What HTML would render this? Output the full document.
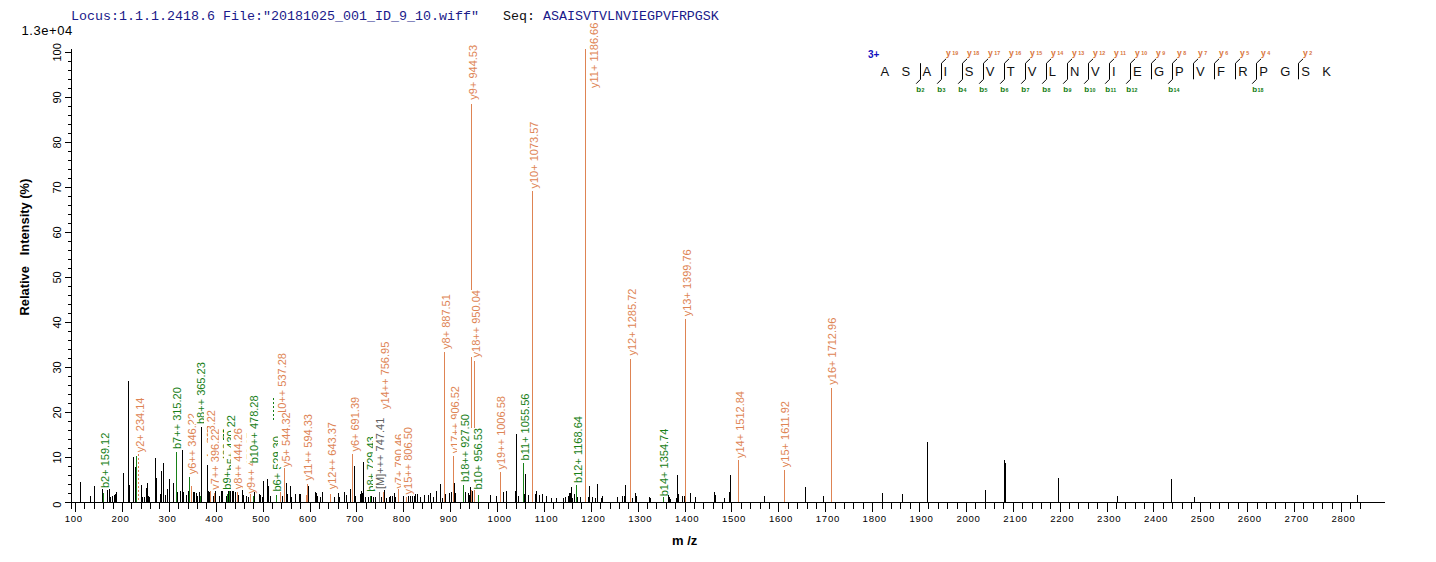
<!DOCTYPE html><html><head><meta charset="utf-8"><style>html,body{margin:0;padding:0;background:#fff;}svg{display:block}text{font-family:"Liberation Sans",sans-serif}</style></head><body>
<svg width="1436" height="562" viewBox="0 0 1436 562" shape-rendering="crispEdges">
<rect width="1436" height="562" fill="#fff"/>
<rect x="103" y="493" width="1" height="9" fill="#178017"/>
<rect x="136" y="456" width="1" height="46" fill="#178017"/>
<rect x="176" y="452" width="1" height="50" fill="#178017"/>
<rect x="189" y="477" width="1" height="25" fill="#178017"/>
<rect x="191" y="486" width="1" height="16" fill="#de8454"/>
<rect x="200" y="496" width="1" height="6" fill="#178017"/>
<rect x="210" y="491" width="1" height="11" fill="#de8454"/>
<rect x="214" y="493" width="1" height="9" fill="#de8454"/>
<rect x="227" y="494" width="1" height="8" fill="#178017"/>
<rect x="229" y="491" width="1" height="11" fill="#178017"/>
<rect x="237" y="492" width="1" height="10" fill="#de8454"/>
<rect x="250" y="494" width="1" height="8" fill="#de8454"/>
<rect x="253" y="496" width="1" height="6" fill="#178017"/>
<rect x="276" y="495" width="1" height="7" fill="#178017"/>
<rect x="280" y="492" width="1" height="10" fill="#de8454"/>
<rect x="284" y="468" width="1" height="34" fill="#de8454"/>
<rect x="306" y="495" width="1" height="7" fill="#de8454"/>
<rect x="307" y="484" width="1" height="18" fill="#de8454"/>
<rect x="330" y="494" width="1" height="8" fill="#de8454"/>
<rect x="352" y="454" width="1" height="48" fill="#de8454"/>
<rect x="370" y="496" width="1" height="6" fill="#178017"/>
<rect x="379" y="492" width="1" height="10" fill="#606060"/>
<rect x="383" y="492" width="1" height="10" fill="#de8454"/>
<rect x="398" y="488" width="1" height="14" fill="#de8454"/>
<rect x="406" y="497" width="1" height="5" fill="#de8454"/>
<rect x="444" y="352" width="1" height="150" fill="#de8454"/>
<rect x="453" y="456" width="1" height="46" fill="#de8454"/>
<rect x="463" y="485" width="1" height="17" fill="#178017"/>
<rect x="471" y="104" width="1" height="398" fill="#de8454"/>
<rect x="474" y="361" width="1" height="141" fill="#de8454"/>
<rect x="478" y="495" width="1" height="7" fill="#178017"/>
<rect x="500" y="472" width="1" height="30" fill="#de8454"/>
<rect x="523" y="463" width="1" height="39" fill="#178017"/>
<rect x="532" y="191" width="1" height="311" fill="#de8454"/>
<rect x="576" y="485" width="1" height="17" fill="#178017"/>
<rect x="585" y="49" width="1" height="453" fill="#de8454"/>
<rect x="630" y="359" width="1" height="143" fill="#de8454"/>
<rect x="663" y="497" width="1" height="5" fill="#178017"/>
<rect x="685" y="319" width="1" height="183" fill="#de8454"/>
<rect x="738" y="460" width="1" height="42" fill="#de8454"/>
<rect x="784" y="470" width="1" height="32" fill="#de8454"/>
<rect x="831" y="388" width="1" height="114" fill="#de8454"/>
<g transform="translate(108.9,488.0) rotate(-90)"><rect x="0" y="-11.5" width="55.4" height="14" fill="#fff"/><text font-size="11" fill="#178017">b2+ 159.12</text></g>
<g transform="translate(143.5,452.3) rotate(-90)"><rect x="0" y="-11.5" width="54.8" height="14" fill="#fff"/><text font-size="11" fill="#de8454">y2+ 234.14</text></g>
<g transform="translate(181.3,449.0) rotate(-90)"><rect x="0" y="-11.5" width="61.8" height="14" fill="#fff"/><text font-size="11" fill="#178017">b7++ 315.20</text></g>
<g transform="translate(196.4,474.2) rotate(-90)"><rect x="0" y="-11.5" width="61.2" height="14" fill="#fff"/><text font-size="11" fill="#de8454">y6++ 346.22</text></g>
<g transform="translate(205.2,424.0) rotate(-90)"><rect x="0" y="-11.5" width="61.8" height="14" fill="#fff"/><text font-size="11" fill="#178017">b8++ 365.23</text></g>
<g transform="translate(215.2,464.8) rotate(-90)"><rect x="0" y="-11.5" width="54.8" height="14" fill="#fff"/><text font-size="11" fill="#de8454">y4+ 388.22</text></g>
<g transform="translate(219.0,489.7) rotate(-90)"><rect x="0" y="-11.5" width="61.2" height="14" fill="#fff"/><text font-size="11" fill="#de8454">y7++ 396.22</text></g>
<g transform="translate(230.8,489.7) rotate(-90)"><rect x="0" y="-11.5" width="61.8" height="14" fill="#fff"/><text font-size="11" fill="#178017">b9++ 422.22</text></g>
<g transform="translate(235.2,470.4) rotate(-90)"><rect x="0" y="-11.5" width="55.4" height="14" fill="#fff"/><text font-size="11" fill="#178017">b5+ 430.22</text></g>
<g transform="translate(242.0,489.2) rotate(-90)"><rect x="0" y="-11.5" width="61.2" height="14" fill="#fff"/><text font-size="11" fill="#de8454">y8++ 444.26</text></g>
<g transform="translate(254.5,493.5) rotate(-90)"><rect x="0" y="-11.5" width="61.2" height="14" fill="#fff"/><text font-size="11" fill="#de8454">y9++ 473.27</text></g>
<g transform="translate(258.0,463.3) rotate(-90)"><rect x="0" y="-11.5" width="68.0" height="14" fill="#fff"/><text font-size="11" fill="#178017">b10++ 478.28</text></g>
<g transform="translate(281.4,491.5) rotate(-90)"><rect x="0" y="-11.5" width="55.4" height="14" fill="#fff"/><text font-size="11" fill="#178017">b6+ 529.30</text></g>
<g transform="translate(285.5,420.3) rotate(-90)"><rect x="0" y="-11.5" width="67.3" height="14" fill="#fff"/><text font-size="11" fill="#de8454">y10++ 537.28</text></g>
<g transform="translate(289.9,467.0) rotate(-90)"><rect x="0" y="-11.5" width="54.8" height="14" fill="#fff"/><text font-size="11" fill="#de8454">y5+ 544.32</text></g>
<g transform="translate(312.3,480.5) rotate(-90)"><rect x="0" y="-11.5" width="66.5" height="14" fill="#fff"/><text font-size="11" fill="#de8454">y11++ 594.33</text></g>
<g transform="translate(335.5,489.3) rotate(-90)"><rect x="0" y="-11.5" width="67.3" height="14" fill="#fff"/><text font-size="11" fill="#de8454">y12++ 643.37</text></g>
<g transform="translate(358.5,451.6) rotate(-90)"><rect x="0" y="-11.5" width="54.8" height="14" fill="#fff"/><text font-size="11" fill="#de8454">y6+ 691.39</text></g>
<g transform="translate(374.5,491.7) rotate(-90)"><rect x="0" y="-11.5" width="55.4" height="14" fill="#fff"/><text font-size="11" fill="#178017">b8+ 729.43</text></g>
<g transform="translate(384.3,489.0) rotate(-90)"><rect x="0" y="-11.5" width="71.3" height="14" fill="#fff"/><text font-size="11" fill="#606060">[M]+++ 747.41</text></g>
<g transform="translate(389.2,409.0) rotate(-90)"><rect x="0" y="-11.5" width="67.3" height="14" fill="#fff"/><text font-size="11" fill="#de8454">y14++ 756.95</text></g>
<g transform="translate(402.5,488.6) rotate(-90)"><rect x="0" y="-11.5" width="54.8" height="14" fill="#fff"/><text font-size="11" fill="#de8454">y7+ 790.46</text></g>
<g transform="translate(412.0,494.4) rotate(-90)"><rect x="0" y="-11.5" width="67.3" height="14" fill="#fff"/><text font-size="11" fill="#de8454">y15++ 806.50</text></g>
<g transform="translate(450.0,348.9) rotate(-90)"><rect x="0" y="-11.5" width="54.8" height="14" fill="#fff"/><text font-size="11" fill="#de8454">y8+ 887.51</text></g>
<g transform="translate(458.5,453.3) rotate(-90)"><rect x="0" y="-11.5" width="67.3" height="14" fill="#fff"/><text font-size="11" fill="#de8454">y17++ 906.52</text></g>
<g transform="translate(468.8,482.0) rotate(-90)"><rect x="0" y="-11.5" width="68.0" height="14" fill="#fff"/><text font-size="11" fill="#178017">b18++ 927.50</text></g>
<g transform="translate(476.8,99.7) rotate(-90)"><rect x="0" y="-11.5" width="54.8" height="14" fill="#fff"/><text font-size="11" fill="#de8454">y9+ 944.53</text></g>
<g transform="translate(480.0,357.4) rotate(-90)"><rect x="0" y="-11.5" width="67.3" height="14" fill="#fff"/><text font-size="11" fill="#de8454">y18++ 950.04</text></g>
<g transform="translate(482.2,489.5) rotate(-90)"><rect x="0" y="-11.5" width="61.5" height="14" fill="#fff"/><text font-size="11" fill="#178017">b10+ 956.53</text></g>
<g transform="translate(505.0,469.5) rotate(-90)"><rect x="0" y="-11.5" width="73.5" height="14" fill="#fff"/><text font-size="11" fill="#de8454">y19++ 1006.58</text></g>
<g transform="translate(528.8,460.4) rotate(-90)"><rect x="0" y="-11.5" width="66.9" height="14" fill="#fff"/><text font-size="11" fill="#178017">b11+ 1055.56</text></g>
<g transform="translate(537.6,188.5) rotate(-90)"><rect x="0" y="-11.5" width="67.0" height="14" fill="#fff"/><text font-size="11" fill="#de8454">y10+ 1073.57</text></g>
<g transform="translate(581.5,482.9) rotate(-90)"><rect x="0" y="-11.5" width="66.9" height="14" fill="#fff"/><text font-size="11" fill="#178017">b12+ 1168.64</text></g>
<g transform="translate(597.5,88.0) rotate(-90)"><rect x="0" y="-11.5" width="65.4" height="14" fill="#fff"/><text font-size="11" fill="#de8454">y11+ 1186.66</text></g>
<g transform="translate(635.8,355.6) rotate(-90)"><rect x="0" y="-11.5" width="67.0" height="14" fill="#fff"/><text font-size="11" fill="#de8454">y12+ 1285.72</text></g>
<g transform="translate(668.0,496.3) rotate(-90)"><rect x="0" y="-11.5" width="67.7" height="14" fill="#fff"/><text font-size="11" fill="#178017">b14+ 1354.74</text></g>
<g transform="translate(690.6,316.3) rotate(-90)"><rect x="0" y="-11.5" width="67.0" height="14" fill="#fff"/><text font-size="11" fill="#de8454">y13+ 1399.76</text></g>
<g transform="translate(743.5,458.0) rotate(-90)"><rect x="0" y="-11.5" width="67.0" height="14" fill="#fff"/><text font-size="11" fill="#de8454">y14+ 1512.84</text></g>
<g transform="translate(788.6,467.2) rotate(-90)"><rect x="0" y="-11.5" width="66.2" height="14" fill="#fff"/><text font-size="11" fill="#de8454">y15+ 1611.92</text></g>
<g transform="translate(836.3,384.7) rotate(-90)"><rect x="0" y="-11.5" width="67.0" height="14" fill="#fff"/><text font-size="11" fill="#de8454">y16+ 1712.96</text></g>
<rect x="80" y="482" width="1" height="20" fill="#000000"/>
<rect x="90" y="496" width="1" height="6" fill="#000000"/>
<rect x="94" y="486" width="1" height="16" fill="#000000"/>
<rect x="102" y="489" width="1" height="13" fill="#000000"/>
<rect x="107" y="490" width="1" height="12" fill="#000000"/>
<rect x="109" y="489" width="1" height="13" fill="#000000"/>
<rect x="110" y="497" width="1" height="5" fill="#000000"/>
<rect x="112" y="496" width="1" height="6" fill="#000000"/>
<rect x="112" y="496" width="1" height="6" fill="#000000"/>
<rect x="114" y="495" width="1" height="7" fill="#000000"/>
<rect x="115" y="494" width="1" height="8" fill="#000000"/>
<rect x="116" y="492" width="1" height="10" fill="#000000"/>
<rect x="123" y="473" width="1" height="29" fill="#000000"/>
<rect x="128" y="381" width="1" height="121" fill="#000000"/>
<rect x="129" y="485" width="1" height="17" fill="#000000"/>
<rect x="133" y="457" width="1" height="45" fill="#000000"/>
<rect x="135" y="467" width="1" height="35" fill="#000000"/>
<rect x="141" y="485" width="1" height="17" fill="#000000"/>
<rect x="142" y="497" width="1" height="5" fill="#000000"/>
<rect x="144" y="497" width="1" height="5" fill="#000000"/>
<rect x="146" y="488" width="1" height="14" fill="#000000"/>
<rect x="147" y="483" width="1" height="19" fill="#000000"/>
<rect x="148" y="496" width="1" height="6" fill="#000000"/>
<rect x="149" y="497" width="1" height="5" fill="#000000"/>
<rect x="155" y="458" width="1" height="44" fill="#000000"/>
<rect x="156" y="478" width="1" height="24" fill="#000000"/>
<rect x="160" y="494" width="1" height="8" fill="#000000"/>
<rect x="161" y="471" width="1" height="31" fill="#000000"/>
<rect x="163" y="463" width="1" height="39" fill="#000000"/>
<rect x="165" y="495" width="1" height="7" fill="#000000"/>
<rect x="167" y="489" width="1" height="13" fill="#000000"/>
<rect x="169" y="479" width="1" height="23" fill="#000000"/>
<rect x="173" y="483" width="1" height="19" fill="#000000"/>
<rect x="177" y="492" width="1" height="10" fill="#000000"/>
<rect x="180" y="491" width="1" height="11" fill="#000000"/>
<rect x="182" y="450" width="1" height="52" fill="#000000"/>
<rect x="183" y="492" width="1" height="10" fill="#000000"/>
<rect x="186" y="495" width="1" height="7" fill="#000000"/>
<rect x="188" y="491" width="1" height="11" fill="#000000"/>
<rect x="193" y="492" width="1" height="10" fill="#000000"/>
<rect x="194" y="492" width="1" height="10" fill="#000000"/>
<rect x="196" y="493" width="1" height="9" fill="#000000"/>
<rect x="197" y="496" width="1" height="6" fill="#000000"/>
<rect x="199" y="492" width="1" height="10" fill="#000000"/>
<rect x="201" y="427" width="1" height="75" fill="#000000"/>
<rect x="207" y="465" width="1" height="37" fill="#000000"/>
<rect x="208" y="491" width="1" height="11" fill="#000000"/>
<rect x="209" y="492" width="1" height="10" fill="#000000"/>
<rect x="213" y="496" width="1" height="6" fill="#000000"/>
<rect x="215" y="491" width="1" height="11" fill="#000000"/>
<rect x="219" y="496" width="1" height="6" fill="#000000"/>
<rect x="221" y="491" width="1" height="11" fill="#000000"/>
<rect x="222" y="491" width="1" height="11" fill="#000000"/>
<rect x="226" y="496" width="1" height="6" fill="#000000"/>
<rect x="228" y="491" width="1" height="11" fill="#000000"/>
<rect x="230" y="491" width="1" height="11" fill="#000000"/>
<rect x="232" y="491" width="1" height="11" fill="#000000"/>
<rect x="233" y="491" width="1" height="11" fill="#000000"/>
<rect x="235" y="492" width="1" height="10" fill="#000000"/>
<rect x="238" y="495" width="1" height="7" fill="#000000"/>
<rect x="242" y="490" width="1" height="12" fill="#000000"/>
<rect x="243" y="495" width="1" height="7" fill="#000000"/>
<rect x="246" y="496" width="1" height="6" fill="#000000"/>
<rect x="248" y="497" width="1" height="5" fill="#000000"/>
<rect x="254" y="492" width="1" height="10" fill="#000000"/>
<rect x="259" y="494" width="1" height="8" fill="#000000"/>
<rect x="260" y="495" width="1" height="7" fill="#000000"/>
<rect x="262" y="497" width="1" height="5" fill="#000000"/>
<rect x="263" y="481" width="1" height="21" fill="#000000"/>
<rect x="267" y="479" width="1" height="23" fill="#000000"/>
<rect x="268" y="486" width="1" height="16" fill="#000000"/>
<rect x="270" y="496" width="1" height="6" fill="#000000"/>
<rect x="282" y="496" width="1" height="6" fill="#000000"/>
<rect x="286" y="483" width="1" height="19" fill="#000000"/>
<rect x="287" y="494" width="1" height="8" fill="#000000"/>
<rect x="290" y="486" width="1" height="16" fill="#000000"/>
<rect x="291" y="497" width="1" height="5" fill="#000000"/>
<rect x="295" y="494" width="1" height="8" fill="#000000"/>
<rect x="299" y="494" width="1" height="8" fill="#000000"/>
<rect x="300" y="494" width="1" height="8" fill="#000000"/>
<rect x="308" y="486" width="1" height="16" fill="#000000"/>
<rect x="315" y="492" width="1" height="10" fill="#000000"/>
<rect x="316" y="493" width="1" height="9" fill="#000000"/>
<rect x="317" y="496" width="1" height="6" fill="#000000"/>
<rect x="320" y="497" width="1" height="5" fill="#000000"/>
<rect x="322" y="492" width="1" height="10" fill="#000000"/>
<rect x="334" y="497" width="1" height="5" fill="#000000"/>
<rect x="338" y="493" width="1" height="9" fill="#000000"/>
<rect x="339" y="497" width="1" height="5" fill="#000000"/>
<rect x="344" y="492" width="1" height="10" fill="#000000"/>
<rect x="346" y="495" width="1" height="7" fill="#000000"/>
<rect x="350" y="489" width="1" height="13" fill="#000000"/>
<rect x="354" y="466" width="1" height="36" fill="#000000"/>
<rect x="355" y="496" width="1" height="6" fill="#000000"/>
<rect x="360" y="494" width="1" height="8" fill="#000000"/>
<rect x="361" y="491" width="1" height="11" fill="#000000"/>
<rect x="362" y="493" width="1" height="9" fill="#000000"/>
<rect x="363" y="462" width="1" height="40" fill="#000000"/>
<rect x="365" y="497" width="1" height="5" fill="#000000"/>
<rect x="368" y="497" width="1" height="5" fill="#000000"/>
<rect x="371" y="496" width="1" height="6" fill="#000000"/>
<rect x="373" y="497" width="1" height="5" fill="#000000"/>
<rect x="375" y="497" width="1" height="5" fill="#000000"/>
<rect x="381" y="497" width="1" height="5" fill="#000000"/>
<rect x="384" y="490" width="1" height="12" fill="#000000"/>
<rect x="386" y="498" width="1" height="4" fill="#000000"/>
<rect x="389" y="497" width="1" height="5" fill="#000000"/>
<rect x="390" y="496" width="1" height="6" fill="#000000"/>
<rect x="392" y="496" width="1" height="6" fill="#000000"/>
<rect x="394" y="493" width="1" height="9" fill="#000000"/>
<rect x="395" y="497" width="1" height="5" fill="#000000"/>
<rect x="403" y="496" width="1" height="6" fill="#000000"/>
<rect x="408" y="496" width="1" height="6" fill="#000000"/>
<rect x="410" y="496" width="1" height="6" fill="#000000"/>
<rect x="412" y="496" width="1" height="6" fill="#000000"/>
<rect x="412" y="496" width="1" height="6" fill="#000000"/>
<rect x="414" y="496" width="1" height="6" fill="#000000"/>
<rect x="415" y="494" width="1" height="8" fill="#000000"/>
<rect x="417" y="494" width="1" height="8" fill="#000000"/>
<rect x="420" y="497" width="1" height="5" fill="#000000"/>
<rect x="424" y="495" width="1" height="7" fill="#000000"/>
<rect x="428" y="495" width="1" height="7" fill="#000000"/>
<rect x="430" y="493" width="1" height="9" fill="#000000"/>
<rect x="433" y="497" width="1" height="5" fill="#000000"/>
<rect x="436" y="491" width="1" height="11" fill="#000000"/>
<rect x="440" y="484" width="1" height="18" fill="#000000"/>
<rect x="442" y="498" width="1" height="4" fill="#000000"/>
<rect x="445" y="494" width="1" height="8" fill="#000000"/>
<rect x="449" y="493" width="1" height="9" fill="#000000"/>
<rect x="451" y="492" width="1" height="10" fill="#000000"/>
<rect x="454" y="483" width="1" height="19" fill="#000000"/>
<rect x="455" y="493" width="1" height="9" fill="#000000"/>
<rect x="465" y="492" width="1" height="10" fill="#000000"/>
<rect x="468" y="493" width="1" height="9" fill="#000000"/>
<rect x="469" y="495" width="1" height="7" fill="#000000"/>
<rect x="470" y="487" width="1" height="15" fill="#000000"/>
<rect x="472" y="491" width="1" height="11" fill="#000000"/>
<rect x="490" y="495" width="1" height="7" fill="#000000"/>
<rect x="496" y="496" width="1" height="6" fill="#000000"/>
<rect x="503" y="492" width="1" height="10" fill="#000000"/>
<rect x="506" y="491" width="1" height="11" fill="#000000"/>
<rect x="515" y="491" width="1" height="11" fill="#000000"/>
<rect x="516" y="434" width="1" height="68" fill="#000000"/>
<rect x="518" y="496" width="1" height="6" fill="#000000"/>
<rect x="524" y="494" width="1" height="8" fill="#000000"/>
<rect x="525" y="474" width="1" height="28" fill="#000000"/>
<rect x="528" y="495" width="1" height="7" fill="#000000"/>
<rect x="535" y="494" width="1" height="8" fill="#000000"/>
<rect x="536" y="491" width="1" height="11" fill="#000000"/>
<rect x="539" y="495" width="1" height="7" fill="#000000"/>
<rect x="542" y="494" width="1" height="8" fill="#000000"/>
<rect x="546" y="496" width="1" height="6" fill="#000000"/>
<rect x="551" y="498" width="1" height="4" fill="#000000"/>
<rect x="556" y="498" width="1" height="4" fill="#000000"/>
<rect x="563" y="498" width="1" height="4" fill="#000000"/>
<rect x="565" y="497" width="1" height="5" fill="#000000"/>
<rect x="568" y="496" width="1" height="6" fill="#000000"/>
<rect x="569" y="493" width="1" height="9" fill="#000000"/>
<rect x="570" y="493" width="1" height="9" fill="#000000"/>
<rect x="571" y="487" width="1" height="15" fill="#000000"/>
<rect x="572" y="498" width="1" height="4" fill="#000000"/>
<rect x="574" y="494" width="1" height="8" fill="#000000"/>
<rect x="577" y="497" width="1" height="5" fill="#000000"/>
<rect x="580" y="497" width="1" height="5" fill="#000000"/>
<rect x="588" y="497" width="1" height="5" fill="#000000"/>
<rect x="589" y="486" width="1" height="16" fill="#000000"/>
<rect x="592" y="497" width="1" height="5" fill="#000000"/>
<rect x="595" y="498" width="1" height="4" fill="#000000"/>
<rect x="597" y="484" width="1" height="18" fill="#000000"/>
<rect x="601" y="498" width="1" height="4" fill="#000000"/>
<rect x="602" y="496" width="1" height="6" fill="#000000"/>
<rect x="617" y="497" width="1" height="5" fill="#000000"/>
<rect x="622" y="496" width="1" height="6" fill="#000000"/>
<rect x="624" y="496" width="1" height="6" fill="#000000"/>
<rect x="625" y="485" width="1" height="17" fill="#000000"/>
<rect x="632" y="498" width="1" height="4" fill="#000000"/>
<rect x="635" y="493" width="1" height="9" fill="#000000"/>
<rect x="636" y="496" width="1" height="6" fill="#000000"/>
<rect x="649" y="497" width="1" height="5" fill="#000000"/>
<rect x="650" y="498" width="1" height="4" fill="#000000"/>
<rect x="668" y="495" width="1" height="7" fill="#000000"/>
<rect x="669" y="497" width="1" height="5" fill="#000000"/>
<rect x="670" y="499" width="1" height="3" fill="#000000"/>
<rect x="676" y="498" width="1" height="4" fill="#000000"/>
<rect x="677" y="475" width="1" height="27" fill="#000000"/>
<rect x="678" y="494" width="1" height="8" fill="#000000"/>
<rect x="682" y="496" width="1" height="6" fill="#000000"/>
<rect x="684" y="496" width="1" height="6" fill="#000000"/>
<rect x="690" y="493" width="1" height="9" fill="#000000"/>
<rect x="695" y="497" width="1" height="5" fill="#000000"/>
<rect x="714" y="492" width="1" height="10" fill="#000000"/>
<rect x="715" y="495" width="1" height="7" fill="#000000"/>
<rect x="724" y="498" width="1" height="4" fill="#000000"/>
<rect x="729" y="492" width="1" height="10" fill="#000000"/>
<rect x="730" y="475" width="1" height="27" fill="#000000"/>
<rect x="764" y="496" width="1" height="6" fill="#000000"/>
<rect x="805" y="487" width="1" height="15" fill="#000000"/>
<rect x="823" y="496" width="1" height="6" fill="#000000"/>
<rect x="882" y="493" width="1" height="9" fill="#000000"/>
<rect x="902" y="494" width="1" height="8" fill="#000000"/>
<rect x="927" y="442" width="1" height="60" fill="#000000"/>
<rect x="985" y="490" width="1" height="12" fill="#000000"/>
<rect x="1004" y="460" width="1" height="42" fill="#000000"/>
<rect x="1005" y="463" width="1" height="39" fill="#000000"/>
<rect x="1058" y="478" width="1" height="24" fill="#000000"/>
<rect x="1117" y="496" width="1" height="6" fill="#000000"/>
<rect x="1171" y="479" width="1" height="23" fill="#000000"/>
<rect x="1194" y="497" width="1" height="5" fill="#000000"/>
<rect x="1357" y="495" width="1" height="7" fill="#000000"/>
<line x1="138.5" y1="454" x2="138.5" y2="502" stroke="#de8454" stroke-width="1" stroke-dasharray="2,2"/>
<line x1="207.5" y1="426" x2="207.5" y2="442" stroke="#de8454" stroke-width="1" stroke-dasharray="2,2"/>
<line x1="223.5" y1="430" x2="223.5" y2="441" stroke="#178017" stroke-width="1" stroke-dasharray="2,2"/>
<line x1="273.5" y1="398" x2="273.5" y2="421" stroke="#178017" stroke-width="1" stroke-dasharray="2,2"/>
<rect x="71" y="49" width="1" height="460" fill="#000"/>
<rect x="65" y="502" width="1320" height="1" fill="#000"/>
<rect x="65" y="502" width="6" height="1" fill="#000"/>
<rect x="68" y="493" width="3" height="1" fill="#000"/>
<rect x="68" y="484" width="3" height="1" fill="#000"/>
<rect x="68" y="475" width="3" height="1" fill="#000"/>
<rect x="68" y="466" width="3" height="1" fill="#000"/>
<rect x="65" y="457" width="6" height="1" fill="#000"/>
<rect x="68" y="448" width="3" height="1" fill="#000"/>
<rect x="68" y="439" width="3" height="1" fill="#000"/>
<rect x="68" y="430" width="3" height="1" fill="#000"/>
<rect x="68" y="421" width="3" height="1" fill="#000"/>
<rect x="65" y="412" width="6" height="1" fill="#000"/>
<rect x="68" y="403" width="3" height="1" fill="#000"/>
<rect x="68" y="394" width="3" height="1" fill="#000"/>
<rect x="68" y="385" width="3" height="1" fill="#000"/>
<rect x="68" y="376" width="3" height="1" fill="#000"/>
<rect x="65" y="367" width="6" height="1" fill="#000"/>
<rect x="68" y="358" width="3" height="1" fill="#000"/>
<rect x="68" y="349" width="3" height="1" fill="#000"/>
<rect x="68" y="340" width="3" height="1" fill="#000"/>
<rect x="68" y="331" width="3" height="1" fill="#000"/>
<rect x="65" y="322" width="6" height="1" fill="#000"/>
<rect x="68" y="313" width="3" height="1" fill="#000"/>
<rect x="68" y="304" width="3" height="1" fill="#000"/>
<rect x="68" y="295" width="3" height="1" fill="#000"/>
<rect x="68" y="286" width="3" height="1" fill="#000"/>
<rect x="65" y="277" width="6" height="1" fill="#000"/>
<rect x="68" y="268" width="3" height="1" fill="#000"/>
<rect x="68" y="259" width="3" height="1" fill="#000"/>
<rect x="68" y="250" width="3" height="1" fill="#000"/>
<rect x="68" y="241" width="3" height="1" fill="#000"/>
<rect x="65" y="232" width="6" height="1" fill="#000"/>
<rect x="68" y="223" width="3" height="1" fill="#000"/>
<rect x="68" y="214" width="3" height="1" fill="#000"/>
<rect x="68" y="205" width="3" height="1" fill="#000"/>
<rect x="68" y="196" width="3" height="1" fill="#000"/>
<rect x="65" y="187" width="6" height="1" fill="#000"/>
<rect x="68" y="178" width="3" height="1" fill="#000"/>
<rect x="68" y="169" width="3" height="1" fill="#000"/>
<rect x="68" y="160" width="3" height="1" fill="#000"/>
<rect x="68" y="151" width="3" height="1" fill="#000"/>
<rect x="65" y="142" width="6" height="1" fill="#000"/>
<rect x="68" y="133" width="3" height="1" fill="#000"/>
<rect x="68" y="124" width="3" height="1" fill="#000"/>
<rect x="68" y="115" width="3" height="1" fill="#000"/>
<rect x="68" y="106" width="3" height="1" fill="#000"/>
<rect x="65" y="97" width="6" height="1" fill="#000"/>
<rect x="68" y="88" width="3" height="1" fill="#000"/>
<rect x="68" y="79" width="3" height="1" fill="#000"/>
<rect x="68" y="70" width="3" height="1" fill="#000"/>
<rect x="68" y="61" width="3" height="1" fill="#000"/>
<rect x="65" y="52" width="6" height="1" fill="#000"/>
<text transform="translate(61,504.6) rotate(-90)" text-anchor="middle" font-size="11" fill="#000">0</text>
<text transform="translate(61,457.4) rotate(-90)" text-anchor="middle" font-size="11" fill="#000">10</text>
<text transform="translate(61,412.4) rotate(-90)" text-anchor="middle" font-size="11" fill="#000">20</text>
<text transform="translate(61,367.4) rotate(-90)" text-anchor="middle" font-size="11" fill="#000">30</text>
<text transform="translate(61,322.4) rotate(-90)" text-anchor="middle" font-size="11" fill="#000">40</text>
<text transform="translate(61,277.4) rotate(-90)" text-anchor="middle" font-size="11" fill="#000">50</text>
<text transform="translate(61,232.4) rotate(-90)" text-anchor="middle" font-size="11" fill="#000">60</text>
<text transform="translate(61,187.4) rotate(-90)" text-anchor="middle" font-size="11" fill="#000">70</text>
<text transform="translate(61,142.4) rotate(-90)" text-anchor="middle" font-size="11" fill="#000">80</text>
<text transform="translate(61,97.4) rotate(-90)" text-anchor="middle" font-size="11" fill="#000">90</text>
<text transform="translate(61,52.4) rotate(-90)" text-anchor="middle" font-size="11" fill="#000">100</text>
<rect x="75" y="503" width="1" height="9" fill="#000"/>
<rect x="84" y="503" width="1" height="6" fill="#000"/>
<rect x="94" y="503" width="1" height="6" fill="#000"/>
<rect x="103" y="503" width="1" height="6" fill="#000"/>
<rect x="113" y="503" width="1" height="6" fill="#000"/>
<rect x="122" y="503" width="1" height="9" fill="#000"/>
<rect x="131" y="503" width="1" height="6" fill="#000"/>
<rect x="141" y="503" width="1" height="6" fill="#000"/>
<rect x="150" y="503" width="1" height="6" fill="#000"/>
<rect x="159" y="503" width="1" height="6" fill="#000"/>
<rect x="169" y="503" width="1" height="9" fill="#000"/>
<rect x="178" y="503" width="1" height="6" fill="#000"/>
<rect x="188" y="503" width="1" height="6" fill="#000"/>
<rect x="197" y="503" width="1" height="6" fill="#000"/>
<rect x="206" y="503" width="1" height="6" fill="#000"/>
<rect x="216" y="503" width="1" height="9" fill="#000"/>
<rect x="225" y="503" width="1" height="6" fill="#000"/>
<rect x="235" y="503" width="1" height="6" fill="#000"/>
<rect x="244" y="503" width="1" height="6" fill="#000"/>
<rect x="253" y="503" width="1" height="6" fill="#000"/>
<rect x="263" y="503" width="1" height="9" fill="#000"/>
<rect x="272" y="503" width="1" height="6" fill="#000"/>
<rect x="281" y="503" width="1" height="6" fill="#000"/>
<rect x="291" y="503" width="1" height="6" fill="#000"/>
<rect x="300" y="503" width="1" height="6" fill="#000"/>
<rect x="310" y="503" width="1" height="9" fill="#000"/>
<rect x="319" y="503" width="1" height="6" fill="#000"/>
<rect x="328" y="503" width="1" height="6" fill="#000"/>
<rect x="338" y="503" width="1" height="6" fill="#000"/>
<rect x="347" y="503" width="1" height="6" fill="#000"/>
<rect x="356" y="503" width="1" height="9" fill="#000"/>
<rect x="366" y="503" width="1" height="6" fill="#000"/>
<rect x="375" y="503" width="1" height="6" fill="#000"/>
<rect x="385" y="503" width="1" height="6" fill="#000"/>
<rect x="394" y="503" width="1" height="6" fill="#000"/>
<rect x="403" y="503" width="1" height="9" fill="#000"/>
<rect x="413" y="503" width="1" height="6" fill="#000"/>
<rect x="422" y="503" width="1" height="6" fill="#000"/>
<rect x="431" y="503" width="1" height="6" fill="#000"/>
<rect x="441" y="503" width="1" height="6" fill="#000"/>
<rect x="450" y="503" width="1" height="9" fill="#000"/>
<rect x="460" y="503" width="1" height="6" fill="#000"/>
<rect x="469" y="503" width="1" height="6" fill="#000"/>
<rect x="478" y="503" width="1" height="6" fill="#000"/>
<rect x="488" y="503" width="1" height="6" fill="#000"/>
<rect x="497" y="503" width="1" height="9" fill="#000"/>
<rect x="506" y="503" width="1" height="6" fill="#000"/>
<rect x="516" y="503" width="1" height="6" fill="#000"/>
<rect x="525" y="503" width="1" height="6" fill="#000"/>
<rect x="535" y="503" width="1" height="6" fill="#000"/>
<rect x="544" y="503" width="1" height="9" fill="#000"/>
<rect x="553" y="503" width="1" height="6" fill="#000"/>
<rect x="563" y="503" width="1" height="6" fill="#000"/>
<rect x="572" y="503" width="1" height="6" fill="#000"/>
<rect x="581" y="503" width="1" height="6" fill="#000"/>
<rect x="591" y="503" width="1" height="9" fill="#000"/>
<rect x="600" y="503" width="1" height="6" fill="#000"/>
<rect x="610" y="503" width="1" height="6" fill="#000"/>
<rect x="619" y="503" width="1" height="6" fill="#000"/>
<rect x="628" y="503" width="1" height="6" fill="#000"/>
<rect x="638" y="503" width="1" height="9" fill="#000"/>
<rect x="647" y="503" width="1" height="6" fill="#000"/>
<rect x="656" y="503" width="1" height="6" fill="#000"/>
<rect x="666" y="503" width="1" height="6" fill="#000"/>
<rect x="675" y="503" width="1" height="6" fill="#000"/>
<rect x="685" y="503" width="1" height="9" fill="#000"/>
<rect x="694" y="503" width="1" height="6" fill="#000"/>
<rect x="703" y="503" width="1" height="6" fill="#000"/>
<rect x="713" y="503" width="1" height="6" fill="#000"/>
<rect x="722" y="503" width="1" height="6" fill="#000"/>
<rect x="731" y="503" width="1" height="9" fill="#000"/>
<rect x="741" y="503" width="1" height="6" fill="#000"/>
<rect x="750" y="503" width="1" height="6" fill="#000"/>
<rect x="760" y="503" width="1" height="6" fill="#000"/>
<rect x="769" y="503" width="1" height="6" fill="#000"/>
<rect x="778" y="503" width="1" height="9" fill="#000"/>
<rect x="788" y="503" width="1" height="6" fill="#000"/>
<rect x="797" y="503" width="1" height="6" fill="#000"/>
<rect x="807" y="503" width="1" height="6" fill="#000"/>
<rect x="816" y="503" width="1" height="6" fill="#000"/>
<rect x="825" y="503" width="1" height="9" fill="#000"/>
<rect x="835" y="503" width="1" height="6" fill="#000"/>
<rect x="844" y="503" width="1" height="6" fill="#000"/>
<rect x="853" y="503" width="1" height="6" fill="#000"/>
<rect x="863" y="503" width="1" height="6" fill="#000"/>
<rect x="872" y="503" width="1" height="9" fill="#000"/>
<rect x="882" y="503" width="1" height="6" fill="#000"/>
<rect x="891" y="503" width="1" height="6" fill="#000"/>
<rect x="900" y="503" width="1" height="6" fill="#000"/>
<rect x="910" y="503" width="1" height="6" fill="#000"/>
<rect x="919" y="503" width="1" height="9" fill="#000"/>
<rect x="928" y="503" width="1" height="6" fill="#000"/>
<rect x="938" y="503" width="1" height="6" fill="#000"/>
<rect x="947" y="503" width="1" height="6" fill="#000"/>
<rect x="957" y="503" width="1" height="6" fill="#000"/>
<rect x="966" y="503" width="1" height="9" fill="#000"/>
<rect x="975" y="503" width="1" height="6" fill="#000"/>
<rect x="985" y="503" width="1" height="6" fill="#000"/>
<rect x="994" y="503" width="1" height="6" fill="#000"/>
<rect x="1003" y="503" width="1" height="6" fill="#000"/>
<rect x="1013" y="503" width="1" height="9" fill="#000"/>
<rect x="1022" y="503" width="1" height="6" fill="#000"/>
<rect x="1032" y="503" width="1" height="6" fill="#000"/>
<rect x="1041" y="503" width="1" height="6" fill="#000"/>
<rect x="1050" y="503" width="1" height="6" fill="#000"/>
<rect x="1060" y="503" width="1" height="9" fill="#000"/>
<rect x="1069" y="503" width="1" height="6" fill="#000"/>
<rect x="1078" y="503" width="1" height="6" fill="#000"/>
<rect x="1088" y="503" width="1" height="6" fill="#000"/>
<rect x="1097" y="503" width="1" height="6" fill="#000"/>
<rect x="1107" y="503" width="1" height="9" fill="#000"/>
<rect x="1116" y="503" width="1" height="6" fill="#000"/>
<rect x="1125" y="503" width="1" height="6" fill="#000"/>
<rect x="1135" y="503" width="1" height="6" fill="#000"/>
<rect x="1144" y="503" width="1" height="6" fill="#000"/>
<rect x="1153" y="503" width="1" height="9" fill="#000"/>
<rect x="1163" y="503" width="1" height="6" fill="#000"/>
<rect x="1172" y="503" width="1" height="6" fill="#000"/>
<rect x="1182" y="503" width="1" height="6" fill="#000"/>
<rect x="1191" y="503" width="1" height="6" fill="#000"/>
<rect x="1200" y="503" width="1" height="9" fill="#000"/>
<rect x="1210" y="503" width="1" height="6" fill="#000"/>
<rect x="1219" y="503" width="1" height="6" fill="#000"/>
<rect x="1228" y="503" width="1" height="6" fill="#000"/>
<rect x="1238" y="503" width="1" height="6" fill="#000"/>
<rect x="1247" y="503" width="1" height="9" fill="#000"/>
<rect x="1257" y="503" width="1" height="6" fill="#000"/>
<rect x="1266" y="503" width="1" height="6" fill="#000"/>
<rect x="1275" y="503" width="1" height="6" fill="#000"/>
<rect x="1285" y="503" width="1" height="6" fill="#000"/>
<rect x="1294" y="503" width="1" height="9" fill="#000"/>
<rect x="1303" y="503" width="1" height="6" fill="#000"/>
<rect x="1313" y="503" width="1" height="6" fill="#000"/>
<rect x="1322" y="503" width="1" height="6" fill="#000"/>
<rect x="1332" y="503" width="1" height="6" fill="#000"/>
<rect x="1341" y="503" width="1" height="9" fill="#000"/>
<rect x="1350" y="503" width="1" height="6" fill="#000"/>
<rect x="1360" y="503" width="1" height="6" fill="#000"/>
<text x="73.7" y="522" text-anchor="middle" font-size="9.6" letter-spacing="0.7" fill="#000">100</text>
<text x="120.6" y="522" text-anchor="middle" font-size="9.6" letter-spacing="0.7" fill="#000">200</text>
<text x="167.5" y="522" text-anchor="middle" font-size="9.6" letter-spacing="0.7" fill="#000">300</text>
<text x="214.4" y="522" text-anchor="middle" font-size="9.6" letter-spacing="0.7" fill="#000">400</text>
<text x="261.2" y="522" text-anchor="middle" font-size="9.6" letter-spacing="0.7" fill="#000">500</text>
<text x="308.1" y="522" text-anchor="middle" font-size="9.6" letter-spacing="0.7" fill="#000">600</text>
<text x="355.0" y="522" text-anchor="middle" font-size="9.6" letter-spacing="0.7" fill="#000">700</text>
<text x="401.9" y="522" text-anchor="middle" font-size="9.6" letter-spacing="0.7" fill="#000">800</text>
<text x="448.8" y="522" text-anchor="middle" font-size="9.6" letter-spacing="0.7" fill="#000">900</text>
<text x="499.7" y="522" text-anchor="middle" font-size="9.6" letter-spacing="0.7" fill="#000">1000</text>
<text x="546.5" y="522" text-anchor="middle" font-size="9.6" letter-spacing="0.7" fill="#000">1100</text>
<text x="593.4" y="522" text-anchor="middle" font-size="9.6" letter-spacing="0.7" fill="#000">1200</text>
<text x="640.3" y="522" text-anchor="middle" font-size="9.6" letter-spacing="0.7" fill="#000">1300</text>
<text x="687.2" y="522" text-anchor="middle" font-size="9.6" letter-spacing="0.7" fill="#000">1400</text>
<text x="734.1" y="522" text-anchor="middle" font-size="9.6" letter-spacing="0.7" fill="#000">1500</text>
<text x="781.0" y="522" text-anchor="middle" font-size="9.6" letter-spacing="0.7" fill="#000">1600</text>
<text x="827.9" y="522" text-anchor="middle" font-size="9.6" letter-spacing="0.7" fill="#000">1700</text>
<text x="874.7" y="522" text-anchor="middle" font-size="9.6" letter-spacing="0.7" fill="#000">1800</text>
<text x="921.6" y="522" text-anchor="middle" font-size="9.6" letter-spacing="0.7" fill="#000">1900</text>
<text x="968.5" y="522" text-anchor="middle" font-size="9.6" letter-spacing="0.7" fill="#000">2000</text>
<text x="1015.4" y="522" text-anchor="middle" font-size="9.6" letter-spacing="0.7" fill="#000">2100</text>
<text x="1062.3" y="522" text-anchor="middle" font-size="9.6" letter-spacing="0.7" fill="#000">2200</text>
<text x="1109.2" y="522" text-anchor="middle" font-size="9.6" letter-spacing="0.7" fill="#000">2300</text>
<text x="1156.1" y="522" text-anchor="middle" font-size="9.6" letter-spacing="0.7" fill="#000">2400</text>
<text x="1202.9" y="522" text-anchor="middle" font-size="9.6" letter-spacing="0.7" fill="#000">2500</text>
<text x="1249.8" y="522" text-anchor="middle" font-size="9.6" letter-spacing="0.7" fill="#000">2600</text>
<text x="1296.7" y="522" text-anchor="middle" font-size="9.6" letter-spacing="0.7" fill="#000">2700</text>
<text x="1343.6" y="522" text-anchor="middle" font-size="9.6" letter-spacing="0.7" fill="#000">2800</text>
<text x="21.6" y="35" font-size="13" letter-spacing="0.55" fill="#000">1.3e+04</text>
<text transform="translate(28.5,315.5) rotate(-90)" font-size="12.9" font-weight="bold" fill="#000" xml:space="preserve">Relative   Intensity (%)</text>
<text x="672" y="545" font-size="13" font-weight="bold" fill="#000" xml:space="preserve">m /z</text>
<rect x="0" y="0" width="1436" height="23" fill="#fff"/>
<text x="71" y="20" font-family="Liberation Mono" style="font-family:'Liberation Mono',monospace" font-size="13.33" fill="#1a1a8a" xml:space="preserve">Locus:1.1.1.2418.6 File:"20181025_001_ID_9_10.wiff"   <tspan fill="#111">Seq: </tspan>ASAISVTVLNVIEGPVFRPGSK</text>
<text x="868" y="58" font-size="10" font-weight="bold" fill="#1010c0">3+</text>
<text x="880.5" y="76" font-size="13" fill="#111">A</text>
<text x="901.5" y="76" font-size="13" fill="#111">S</text>
<text x="922.6" y="76" font-size="13" fill="#111">A</text>
<text x="943.6" y="76" font-size="13" fill="#111">I</text>
<text x="964.7" y="76" font-size="13" fill="#111">S</text>
<text x="985.7" y="76" font-size="13" fill="#111">V</text>
<text x="1006.7" y="76" font-size="13" fill="#111">T</text>
<text x="1027.8" y="76" font-size="13" fill="#111">V</text>
<text x="1048.8" y="76" font-size="13" fill="#111">L</text>
<text x="1069.9" y="76" font-size="13" fill="#111">N</text>
<text x="1090.9" y="76" font-size="13" fill="#111">V</text>
<text x="1111.9" y="76" font-size="13" fill="#111">I</text>
<text x="1133.0" y="76" font-size="13" fill="#111">E</text>
<text x="1154.0" y="76" font-size="13" fill="#111">G</text>
<text x="1175.1" y="76" font-size="13" fill="#111">P</text>
<text x="1196.1" y="76" font-size="13" fill="#111">V</text>
<text x="1217.1" y="76" font-size="13" fill="#111">F</text>
<text x="1238.2" y="76" font-size="13" fill="#111">R</text>
<text x="1259.2" y="76" font-size="13" fill="#111">P</text>
<text x="1280.3" y="76" font-size="13" fill="#111">G</text>
<text x="1301.3" y="76" font-size="13" fill="#111">S</text>
<text x="1322.3" y="76" font-size="13" fill="#111">K</text>
<line x1="920.5" y1="63.2" x2="920.5" y2="79.3" stroke="#000" stroke-width="1" shape-rendering="auto"/>
<line x1="920.5" y1="79.3" x2="916.2" y2="83.7" stroke="#000" stroke-width="1" shape-rendering="auto"/>
<text x="916.2" y="91.7" font-size="8" font-weight="bold" fill="#0f7a0f">b<tspan font-size="5.3" font-weight="bold" dx="0.5">2</tspan></text>
<line x1="941.5" y1="63.2" x2="941.5" y2="79.3" stroke="#000" stroke-width="1" shape-rendering="auto"/>
<line x1="941.5" y1="63.2" x2="946.1" y2="58.8" stroke="#000" stroke-width="1" shape-rendering="auto"/>
<text x="946.1" y="56" font-size="8.5" font-weight="bold" fill="#d8743c">y<tspan font-size="5.3" font-weight="bold" dx="1.4" dy="-0.6">19</tspan></text>
<line x1="941.5" y1="79.3" x2="937.2" y2="83.7" stroke="#000" stroke-width="1" shape-rendering="auto"/>
<text x="937.2" y="91.7" font-size="8" font-weight="bold" fill="#0f7a0f">b<tspan font-size="5.3" font-weight="bold" dx="0.5">3</tspan></text>
<line x1="962.5" y1="63.2" x2="962.5" y2="79.3" stroke="#000" stroke-width="1" shape-rendering="auto"/>
<line x1="962.5" y1="63.2" x2="967.1" y2="58.8" stroke="#000" stroke-width="1" shape-rendering="auto"/>
<text x="967.1" y="56" font-size="8.5" font-weight="bold" fill="#d8743c">y<tspan font-size="5.3" font-weight="bold" dx="1.4" dy="-0.6">18</tspan></text>
<line x1="962.5" y1="79.3" x2="958.2" y2="83.7" stroke="#000" stroke-width="1" shape-rendering="auto"/>
<text x="958.2" y="91.7" font-size="8" font-weight="bold" fill="#0f7a0f">b<tspan font-size="5.3" font-weight="bold" dx="0.5">4</tspan></text>
<line x1="983.5" y1="63.2" x2="983.5" y2="79.3" stroke="#000" stroke-width="1" shape-rendering="auto"/>
<line x1="983.5" y1="63.2" x2="988.1" y2="58.8" stroke="#000" stroke-width="1" shape-rendering="auto"/>
<text x="988.1" y="56" font-size="8.5" font-weight="bold" fill="#d8743c">y<tspan font-size="5.3" font-weight="bold" dx="1.4" dy="-0.6">17</tspan></text>
<line x1="983.5" y1="79.3" x2="979.2" y2="83.7" stroke="#000" stroke-width="1" shape-rendering="auto"/>
<text x="979.2" y="91.7" font-size="8" font-weight="bold" fill="#0f7a0f">b<tspan font-size="5.3" font-weight="bold" dx="0.5">5</tspan></text>
<line x1="1004.5" y1="63.2" x2="1004.5" y2="79.3" stroke="#000" stroke-width="1" shape-rendering="auto"/>
<line x1="1004.5" y1="63.2" x2="1009.1" y2="58.8" stroke="#000" stroke-width="1" shape-rendering="auto"/>
<text x="1009.1" y="56" font-size="8.5" font-weight="bold" fill="#d8743c">y<tspan font-size="5.3" font-weight="bold" dx="1.4" dy="-0.6">16</tspan></text>
<line x1="1004.5" y1="79.3" x2="1000.2" y2="83.7" stroke="#000" stroke-width="1" shape-rendering="auto"/>
<text x="1000.2" y="91.7" font-size="8" font-weight="bold" fill="#0f7a0f">b<tspan font-size="5.3" font-weight="bold" dx="0.5">6</tspan></text>
<line x1="1025.5" y1="63.2" x2="1025.5" y2="79.3" stroke="#000" stroke-width="1" shape-rendering="auto"/>
<line x1="1025.5" y1="63.2" x2="1030.1" y2="58.8" stroke="#000" stroke-width="1" shape-rendering="auto"/>
<text x="1030.1" y="56" font-size="8.5" font-weight="bold" fill="#d8743c">y<tspan font-size="5.3" font-weight="bold" dx="1.4" dy="-0.6">15</tspan></text>
<line x1="1025.5" y1="79.3" x2="1021.2" y2="83.7" stroke="#000" stroke-width="1" shape-rendering="auto"/>
<text x="1021.2" y="91.7" font-size="8" font-weight="bold" fill="#0f7a0f">b<tspan font-size="5.3" font-weight="bold" dx="0.5">7</tspan></text>
<line x1="1046.5" y1="63.2" x2="1046.5" y2="79.3" stroke="#000" stroke-width="1" shape-rendering="auto"/>
<line x1="1046.5" y1="63.2" x2="1051.1" y2="58.8" stroke="#000" stroke-width="1" shape-rendering="auto"/>
<text x="1051.1" y="56" font-size="8.5" font-weight="bold" fill="#d8743c">y<tspan font-size="5.3" font-weight="bold" dx="1.4" dy="-0.6">14</tspan></text>
<line x1="1046.5" y1="79.3" x2="1042.2" y2="83.7" stroke="#000" stroke-width="1" shape-rendering="auto"/>
<text x="1042.2" y="91.7" font-size="8" font-weight="bold" fill="#0f7a0f">b<tspan font-size="5.3" font-weight="bold" dx="0.5">8</tspan></text>
<line x1="1067.5" y1="63.2" x2="1067.5" y2="79.3" stroke="#000" stroke-width="1" shape-rendering="auto"/>
<line x1="1067.5" y1="63.2" x2="1072.1" y2="58.8" stroke="#000" stroke-width="1" shape-rendering="auto"/>
<text x="1072.1" y="56" font-size="8.5" font-weight="bold" fill="#d8743c">y<tspan font-size="5.3" font-weight="bold" dx="1.4" dy="-0.6">13</tspan></text>
<line x1="1067.5" y1="79.3" x2="1063.2" y2="83.7" stroke="#000" stroke-width="1" shape-rendering="auto"/>
<text x="1063.2" y="91.7" font-size="8" font-weight="bold" fill="#0f7a0f">b<tspan font-size="5.3" font-weight="bold" dx="0.5">9</tspan></text>
<line x1="1088.5" y1="63.2" x2="1088.5" y2="79.3" stroke="#000" stroke-width="1" shape-rendering="auto"/>
<line x1="1088.5" y1="63.2" x2="1093.1" y2="58.8" stroke="#000" stroke-width="1" shape-rendering="auto"/>
<text x="1093.1" y="56" font-size="8.5" font-weight="bold" fill="#d8743c">y<tspan font-size="5.3" font-weight="bold" dx="1.4" dy="-0.6">12</tspan></text>
<line x1="1088.5" y1="79.3" x2="1084.2" y2="83.7" stroke="#000" stroke-width="1" shape-rendering="auto"/>
<text x="1084.2" y="91.7" font-size="8" font-weight="bold" fill="#0f7a0f">b<tspan font-size="5.3" font-weight="bold" dx="0.5">10</tspan></text>
<line x1="1109.5" y1="63.2" x2="1109.5" y2="79.3" stroke="#000" stroke-width="1" shape-rendering="auto"/>
<line x1="1109.5" y1="63.2" x2="1114.1" y2="58.8" stroke="#000" stroke-width="1" shape-rendering="auto"/>
<text x="1114.1" y="56" font-size="8.5" font-weight="bold" fill="#d8743c">y<tspan font-size="5.3" font-weight="bold" dx="1.4" dy="-0.6">11</tspan></text>
<line x1="1109.5" y1="79.3" x2="1105.2" y2="83.7" stroke="#000" stroke-width="1" shape-rendering="auto"/>
<text x="1105.2" y="91.7" font-size="8" font-weight="bold" fill="#0f7a0f">b<tspan font-size="5.3" font-weight="bold" dx="0.5">11</tspan></text>
<line x1="1130.5" y1="63.2" x2="1130.5" y2="79.3" stroke="#000" stroke-width="1" shape-rendering="auto"/>
<line x1="1130.5" y1="63.2" x2="1135.1" y2="58.8" stroke="#000" stroke-width="1" shape-rendering="auto"/>
<text x="1135.1" y="56" font-size="8.5" font-weight="bold" fill="#d8743c">y<tspan font-size="5.3" font-weight="bold" dx="1.4" dy="-0.6">10</tspan></text>
<line x1="1130.5" y1="79.3" x2="1126.2" y2="83.7" stroke="#000" stroke-width="1" shape-rendering="auto"/>
<text x="1126.2" y="91.7" font-size="8" font-weight="bold" fill="#0f7a0f">b<tspan font-size="5.3" font-weight="bold" dx="0.5">12</tspan></text>
<line x1="1151.5" y1="63.2" x2="1151.5" y2="79.3" stroke="#000" stroke-width="1" shape-rendering="auto"/>
<line x1="1151.5" y1="63.2" x2="1156.1" y2="58.8" stroke="#000" stroke-width="1" shape-rendering="auto"/>
<text x="1156.1" y="56" font-size="8.5" font-weight="bold" fill="#d8743c">y<tspan font-size="5.3" font-weight="bold" dx="1.4" dy="-0.6">9</tspan></text>
<line x1="1172.5" y1="63.2" x2="1172.5" y2="79.3" stroke="#000" stroke-width="1" shape-rendering="auto"/>
<line x1="1172.5" y1="63.2" x2="1177.1" y2="58.8" stroke="#000" stroke-width="1" shape-rendering="auto"/>
<text x="1177.1" y="56" font-size="8.5" font-weight="bold" fill="#d8743c">y<tspan font-size="5.3" font-weight="bold" dx="1.4" dy="-0.6">8</tspan></text>
<line x1="1172.5" y1="79.3" x2="1168.2" y2="83.7" stroke="#000" stroke-width="1" shape-rendering="auto"/>
<text x="1168.2" y="91.7" font-size="8" font-weight="bold" fill="#0f7a0f">b<tspan font-size="5.3" font-weight="bold" dx="0.5">14</tspan></text>
<line x1="1193.5" y1="63.2" x2="1193.5" y2="79.3" stroke="#000" stroke-width="1" shape-rendering="auto"/>
<line x1="1193.5" y1="63.2" x2="1198.1" y2="58.8" stroke="#000" stroke-width="1" shape-rendering="auto"/>
<text x="1198.1" y="56" font-size="8.5" font-weight="bold" fill="#d8743c">y<tspan font-size="5.3" font-weight="bold" dx="1.4" dy="-0.6">7</tspan></text>
<line x1="1214.5" y1="63.2" x2="1214.5" y2="79.3" stroke="#000" stroke-width="1" shape-rendering="auto"/>
<line x1="1214.5" y1="63.2" x2="1219.1" y2="58.8" stroke="#000" stroke-width="1" shape-rendering="auto"/>
<text x="1219.1" y="56" font-size="8.5" font-weight="bold" fill="#d8743c">y<tspan font-size="5.3" font-weight="bold" dx="1.4" dy="-0.6">6</tspan></text>
<line x1="1235.5" y1="63.2" x2="1235.5" y2="79.3" stroke="#000" stroke-width="1" shape-rendering="auto"/>
<line x1="1235.5" y1="63.2" x2="1240.1" y2="58.8" stroke="#000" stroke-width="1" shape-rendering="auto"/>
<text x="1240.1" y="56" font-size="8.5" font-weight="bold" fill="#d8743c">y<tspan font-size="5.3" font-weight="bold" dx="1.4" dy="-0.6">5</tspan></text>
<line x1="1256.5" y1="63.2" x2="1256.5" y2="79.3" stroke="#000" stroke-width="1" shape-rendering="auto"/>
<line x1="1256.5" y1="63.2" x2="1261.1" y2="58.8" stroke="#000" stroke-width="1" shape-rendering="auto"/>
<text x="1261.1" y="56" font-size="8.5" font-weight="bold" fill="#d8743c">y<tspan font-size="5.3" font-weight="bold" dx="1.4" dy="-0.6">4</tspan></text>
<line x1="1256.5" y1="79.3" x2="1252.2" y2="83.7" stroke="#000" stroke-width="1" shape-rendering="auto"/>
<text x="1252.2" y="91.7" font-size="8" font-weight="bold" fill="#0f7a0f">b<tspan font-size="5.3" font-weight="bold" dx="0.5">18</tspan></text>
<line x1="1298.5" y1="63.2" x2="1298.5" y2="79.3" stroke="#000" stroke-width="1" shape-rendering="auto"/>
<line x1="1298.5" y1="63.2" x2="1303.1" y2="58.8" stroke="#000" stroke-width="1" shape-rendering="auto"/>
<text x="1303.1" y="56" font-size="8.5" font-weight="bold" fill="#d8743c">y<tspan font-size="5.3" font-weight="bold" dx="1.4" dy="-0.6">2</tspan></text>
</svg></body></html>
